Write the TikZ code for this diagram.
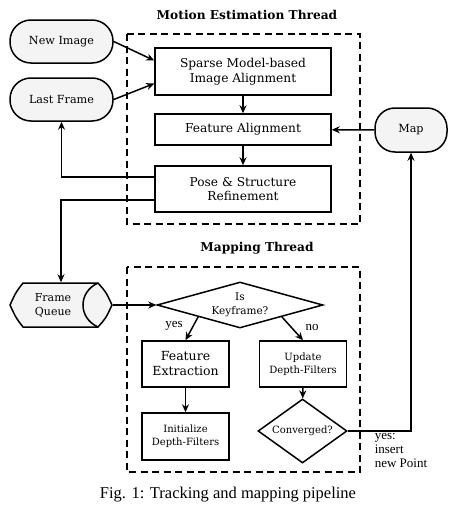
\documentclass[tikz,border=0pt]{standalone}
\usepackage{fontspec}
\setmainfont{DejaVu Serif}
\newfontfamily\timesfont{Liberation Serif}
\usetikzlibrary{shapes.geometric,arrows.meta}
\definecolor{nodegray}{HTML}{F4F4F4}
\begin{document}
\begin{tikzpicture}[x=1pt,y=-1pt,
  line width=1.5pt,
  >={Stealth[length=8pt,width=7pt]},
  term/.style={draw,fill=nodegray,rounded corners=21pt,minimum width=103pt,minimum height=43pt,inner sep=0pt,font=\fontsize{11.2}{13}\selectfont,align=center},
  proc/.style={draw,fill=white,minimum width=176pt,inner sep=0pt,align=center,font=\fontsize{12.2}{14.5}\selectfont},
  mproc/.style={draw,fill=white,minimum width=87pt,minimum height=46pt,inner sep=0pt,align=center},
  dec/.style={draw,fill=white,diamond,inner sep=0pt,align=center},
  thread/.style={draw,dashed,dash pattern=on 7pt off 4.5pt},
  ttl/.style={font=\fontsize{12.2}{14}\selectfont\bfseries},
  lbl/.style={font=\timesfont\fontsize{13}{14}\selectfont,inner sep=0pt}
]
\useasboundingbox (0,0) rectangle (458,506);
% threads
\node[ttl] (t1) at (247,15) {Motion Estimation Thread};
\draw[thread] (127,34) rectangle (360,224);
\node[ttl] (t2) at (257,248) {Mapping Thread};
\draw[thread] (127,267) rectangle (360,472);
% motion estimation
\node[term] (ni) at (61.5,41.5) {New Image};
\node[term] (lf) at (61.5,99.5) {Last Frame};
\node[term,minimum width=72pt,minimum height=44pt,rounded corners=20pt] (map) at (411,130) {Map};
\node[proc,minimum height=47pt] (sp) at (243,71.5) {Sparse Model-based\\Image Alignment};
\node[proc,minimum height=31pt] (fa) at (243,129.5) {Feature Alignment};
\node[proc,minimum height=46pt] (ps) at (243,189) {Pose \& Structure\\Refinement};
\draw[->] (ni.east) -- ([yshift=11pt]sp.west);
\draw[->] (lf.east) -- ([yshift=-12pt]sp.west);
\draw[->] (sp) -- (fa);
\draw[->] (fa) -- (ps);
\draw[->] (map) -- (fa);
\draw[->] ([yshift=12pt]ps.west) -| (lf.south);
% frame queue
\node[minimum width=102pt,minimum height=44pt,inner sep=0pt] (fq) at (61,305) {};
\filldraw[fill=nodegray] (23,283) .. controls (16,292) .. (10,305) .. controls (16,318) .. (23,327) -- (98,327) .. controls (106,318) .. (112,305) .. controls (106,292) .. (98,283) -- cycle;
\draw (98,283) .. controls (78,292) and (78,318) .. (98,327);
\node[font=\fontsize{11}{14}\selectfont,align=center] (fqt) at (53,305) {Frame\\Queue};
\draw[->] ([yshift=-11pt]ps.west) -| (fq.north);
% mapping
\node[dec,minimum width=166pt,minimum height=46pt,aspect=3.6,font=\fontsize{10.5}{14}\selectfont] (kf) at (240,305) {Is\\Keyframe?};
\draw[->] (fq.east) -- (kf.west);
\node[mproc,font=\fontsize{12.5}{15}\selectfont] (fe) at (185.5,364) {Feature\\Extraction};
\node[mproc,font=\fontsize{10}{13}\selectfont] (ud) at (303,364) {Update\\Depth-Filters};
\node[mproc,minimum height=47pt,font=\fontsize{10}{13}\selectfont] (in) at (185.5,436.5) {Initialize\\Depth-Filters};
\node[dec,minimum width=89pt,minimum height=64pt,aspect=1.4,font=\fontsize{10}{12}\selectfont] (cv) at (302.5,431) {Converged?};
\draw[->] (kf.south west) -- (fe.north);
\draw[->] (kf.south east) -- (ud.north);
\node[lbl] (ly) at (174,326) {yes};
\node[lbl] (ln) at (312,327) {no};
\draw[->] (fe) -- (in);
\draw[->] (ud) -- (cv);
\draw[->] (cv.east) -| (map.south);
\node[lbl,anchor=north west,align=left,font=\timesfont\fontsize{13}{14}\selectfont] (ins) at (374,433) {yes:\\insert\\new Point};
% caption
\node[font=\timesfont\fontsize{16.5}{18}\selectfont] (cap) at (228,495) {Fig. 1: Tracking and mapping pipeline};
\end{tikzpicture}
\end{document}
